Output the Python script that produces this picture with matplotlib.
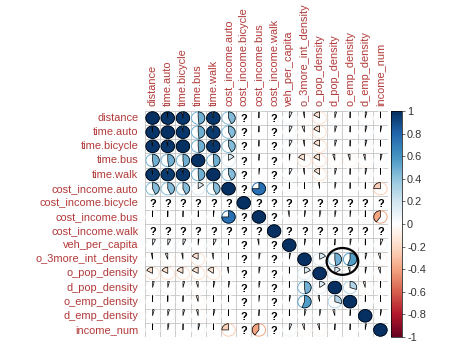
import matplotlib
matplotlib.use('Agg')
import matplotlib.pyplot as plt
import numpy as np
from matplotlib.patches import Wedge, Circle, Ellipse
from matplotlib.colors import LinearSegmentedColormap, Normalize
from matplotlib.colorbar import ColorbarBase

plt.rcParams['font.family'] = ['Liberation Sans', 'DejaVu Sans']

names = ['distance', 'time.auto', 'time.bicycle', 'time.bus', 'time.walk',
         'cost_income.auto', 'cost_income.bicycle', 'cost_income.bus',
         'cost_income.walk', 'veh_per_capita', 'o_3more_int_density',
         'o_pop_density', 'd_pop_density', 'o_emp_density', 'd_emp_density',
         'income_num']

# upper triangle, row by row (None = NA, shown as "?")
NA = None
upper = [
    [0.98, 0.97, 0.48, 0.97, 0.43, NA, 0.0, NA, 0.07, -0.03, -0.17, 0.04, 0.0, 0.04, 0.0],
    [0.97, 0.48, 0.96, 0.43, NA, 0.0, NA, 0.07, -0.06, -0.17, 0.04, 0.0, 0.04, 0.03],
    [0.48, 0.97, 0.43, NA, 0.0, NA, 0.07, -0.03, -0.17, 0.04, 0.0, 0.04, 0.0],
    [0.48, 0.15, NA, 0.01, NA, 0.02, -0.17, -0.17, -0.05, -0.05, -0.04, 0.04],
    [0.43, NA, 0.02, NA, 0.07, -0.03, -0.15, 0.04, 0.0, 0.04, 0.0],
    [NA, 0.75, NA, 0.0, 0.0, -0.03, 0.03, 0.0, 0.0, -0.25],
    [NA, NA, NA, NA, NA, NA, NA, NA, NA],
    [NA, -0.03, 0.03, 0.03, 0.03, 0.02, 0.01, -0.4],
    [NA, NA, NA, NA, NA, NA, NA],
    [0.03, 0.01, 0.01, 0.03, 0.01, 0.06],
    [0.17, 0.48, 0.56, 0.04, -0.05],
    [0.15, -0.04, 0.03, -0.05],
    [0.3, -0.05, 0.01],
    [0.01, 0.0],
    [0.03],
]

n = len(names)
corr = np.eye(n)
for i, row in enumerate(upper):
    for k, v in enumerate(row):
        j = i + 1 + k
        val = np.nan if v is None else v
        corr[i, j] = val
        corr[j, i] = val

# corrplot RdBu palette
cmap = LinearSegmentedColormap.from_list('corrRdBu', [
    '#67001F', '#B2182B', '#D6604D', '#F4A582', '#FDDBC7', '#FFFFFF',
    '#D1E5F0', '#92C5DE', '#4393C3', '#2166AC', '#053061'])
norm = Normalize(-1, 1)

W, H = 474, 345
fig = plt.figure(figsize=(W / 100, H / 100), dpi=100)
ax = fig.add_axes([145 / W, 1 - 337 / H, 243 / W, 226 / H])
ax.set_xlim(0, n)
ax.set_ylim(0, n)
ax.axis('off')

# grid
for k in range(n + 1):
    ax.plot([k, k], [0, n], color='#C4C4C4', lw=0.6, zorder=1)
    ax.plot([0, n], [k, k], color='#C4C4C4', lw=0.6, zorder=1)

rad = 0.44
lab_col = '#B33A3A'
fs = 7.9
for i in range(n):
    y = n - i - 0.5
    ax.text(-0.45, y, names[i], ha='right', va='center', fontsize=fs, color=lab_col)
    ax.text(i + 0.5, n + 0.35, names[i], ha='center', va='bottom', rotation=90,
            fontsize=fs, color=lab_col)
    for j in range(n):
        x = j + 0.5
        r = corr[i, j]
        if np.isnan(r):
            ax.text(x, y - 0.08, '?', ha='center', va='center', fontsize=7.8,
                    fontweight='bold', color='black', zorder=3)
            continue
        c = cmap(norm(r))
        ax.add_patch(Circle((x, y), rad, fill=False, edgecolor=c, lw=0.7, zorder=2))
        span = max(abs(r) * 360, 1.5)
        if r >= 0:
            t1, t2 = 90 - span, 90
        else:
            t1, t2 = 90, 90 + span
        ax.add_patch(Wedge((x, y), rad, t1, t2, facecolor=c, edgecolor='black',
                           lw=0.5, zorder=3))

# highlight ring around o_3more_int_density vs d_pop / o_emp
ri = names.index('o_3more_int_density')
c1 = names.index('d_pop_density')
c2 = names.index('o_emp_density')
ax.add_patch(Ellipse(((c1 + c2) / 2 + 0.5, n - ri - 0.65), 2.08, 1.9, fill=False,
                     edgecolor='black', lw=1.6, zorder=5, clip_on=False))

cax = fig.add_axes([391 / W, 1 - 337 / H, 10.5 / W, 226 / H])
cb = ColorbarBase(cax, cmap=cmap, norm=norm, ticks=np.linspace(-1, 1, 11))
cb.set_ticklabels(['%g' % round(v, 1) for v in np.linspace(-1, 1, 11)])
cb.outline.set_linewidth(0.5)
cax.tick_params(length=2, width=0.5, labelsize=fs, colors='#333333', pad=2)

plt.savefig('out.png', dpi=100)
